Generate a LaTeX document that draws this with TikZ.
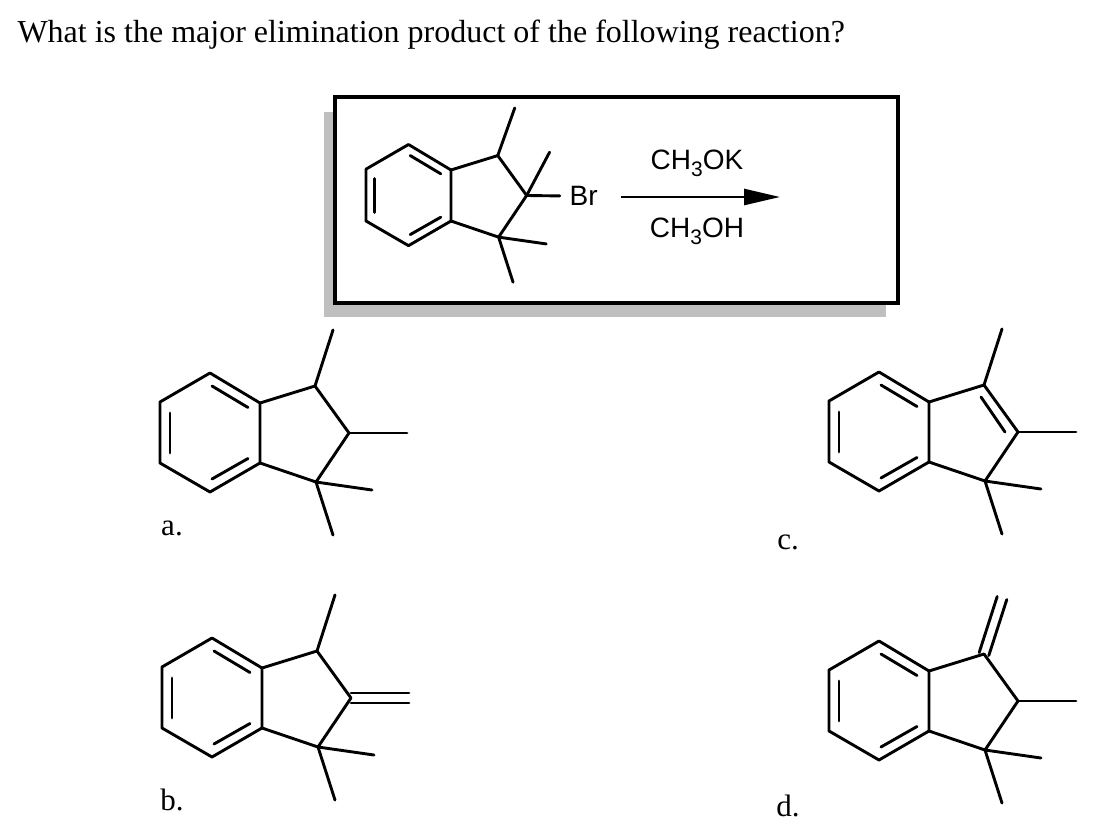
\documentclass[tikz,border=0pt]{standalone}
\usepackage{fontspec}
\setmainfont{Liberation Serif}
\newfontfamily\helv{Liberation Sans}
\usetikzlibrary{arrows.meta}
\tikzset{bond/.style={line width=2.9pt,line cap=round,line join=round},
  rtext/.style={font=\helv\fontsize{28}{30}\selectfont},
  lab/.style={font=\fontsize{31}{33}\selectfont}}
\newcommand\sbs[1]{\raisebox{-0.25em}{\fontsize{21}{22}\selectfont #1}}
\newcommand\indaneskel{%
  \coordinate (T) at (-50,-30); \coordinate (UL) at (-100,-1); \coordinate (LL) at (-100,60);
  \coordinate (B) at (-50,89); \coordinate (C7a) at (0,60); \coordinate (C3a) at (0,0);
  \coordinate (C1) at (55,-17); \coordinate (C2) at (89,30); \coordinate (C3) at (56,79);
  \draw[bond] (C3a)--(T)--(UL)--(LL)--(B)--(C7a)--cycle;
  \draw[bond] (C3a)--(C1)--(C2)--(C3)--(C7a);
  \draw[bond] (-48,-17)--(-12,4.5);
  \draw[bond] (-90,10)--(-90,50);
  \draw[bond] (-48,76)--(-12,55.5);
  \draw[bond] (C3)--(112,87); \draw[bond] (C3)--(73,132);
}
\begin{document}
\begin{tikzpicture}[x=1pt,y=-1pt]
\useasboundingbox (0,0) rectangle (1112,838);
\node[anchor=base west,font=\fontsize{32}{34}\selectfont] (q) at (14,42) {What is the major elimination product of the following reaction?};
% reaction box
\fill[black!25] (324,112) rectangle (886,317);
\draw[fill=white,line width=3.2pt] (335,97) rectangle (898,303);
\begin{scope}[shift={(451,170)},scale=0.85]
  \indaneskel
  \draw[bond] (C1)--(75,-73);
  \draw[bond] (C2)--(116,-21);
  \draw[bond] (C2)--(128,30.5);
  \coordinate (brc) at (156,30.5);
\end{scope}
\node[rtext] (br) at (brc) {Br};
\coordinate (a1) at (621,197); \coordinate (a2) at (780,197);
\draw[line width=2.6pt,-{Triangle[length=36pt,width=16pt]}] (a1)--(a2);
\node[rtext] (r1) at (697,163) {CH\sbs{3}OK};
\node[rtext] (r2) at (697,231) {CH\sbs{3}OH};
% a
\begin{scope}[shift={(260,403)}]
  \indaneskel
  \draw[bond] (C1)--(73,-73); \draw[bond] (C2)--(147,30);
\end{scope}
% b
\begin{scope}[shift={(262,668)}]
  \indaneskel
  \draw[bond] (C1)--(73,-73);
  \draw[bond] (89,25)--(147,25); \draw[bond] (89,35)--(147,35);
\end{scope}
% c
\begin{scope}[shift={(929,402)}]
  \indaneskel
  \draw[bond] (C1)--(73,-73); \draw[bond] (C2)--(147,30);
  \draw[bond] (52,-5)--(76,30);
\end{scope}
% d
\begin{scope}[shift={(929,671)}]
  \indaneskel
  \draw[bond] (C2)--(147,30);
  \draw[bond] (50.2,-18.5)--(68.2,-74.5); \draw[bond] (59.8,-15.5)--(77.8,-71.5);
\end{scope}
\node[lab] (la) at (172,528) {a.};
\node[lab] (lc) at (788,542) {c.};
\node[lab] (lb) at (172,800) {b.};
\node[lab] (ld) at (788,806) {d.};
\end{tikzpicture}
\end{document}
